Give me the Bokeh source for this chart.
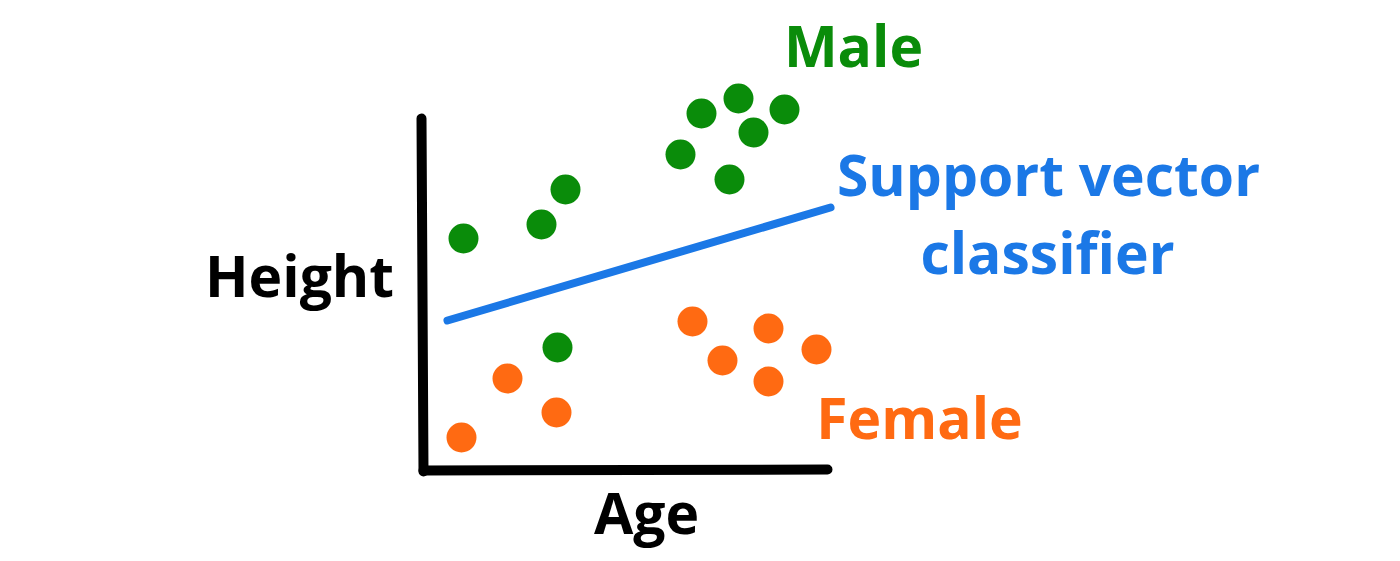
from bokeh.plotting import figure
from bokeh.models import Range1d, ColumnDataSource
from bokeh.core.properties import value
from bokeh.embed import file_html
from bokeh.resources import INLINE

# Data (age, height) in arbitrary units, origin at axis corner
male_age = [38, 116, 140, 132, 255, 276, 313, 328, 359, 304]
male_height = [232, 246, 281, 123, 316, 357, 372, 338, 361, 291]
female_age = [36, 82, 131, 267, 297, 343, 343, 391]
female_height = [33, 92, 58, 149, 110, 142, 89, 121]
svc_age = [22, 405]
svc_height = [150, 263]

labels = ["Male", "Support vector", "classifier", "Female", "Height", "Age"]

GREEN = "#0a8c0a"
ORANGE = "#ff6a12"
BLUE = "#1b78e6"

p = figure(width=1400, height=561, output_backend="svg", toolbar_location=None,
           x_range=Range1d(-425, 975), y_range=Range1d(-91, 470),
           min_border=0, outline_line_color=None)
p.axis.visible = False
p.grid.visible = False
p.background_fill_color = "white"
p.border_fill_color = "white"

# hand-drawn axes
p.line([-4, -2], [352, -1], line_width=10, line_color="black", line_cap="round")
p.line([-2, 402], [0, 1], line_width=10, line_color="black", line_cap="round")

# classifier line
p.line(svc_age, svc_height, line_width=8, line_color=BLUE, line_cap="round")

p.scatter(male_age, male_height, size=30, fill_color=GREEN, line_color=None)
p.scatter(female_age, female_height, size=30, fill_color=ORANGE, line_color=None)

lab_x = [428, 623, 622, 494, -126, 221]
lab_y = [426, 297, 219, 54, 196, -41]
lab_c = [GREEN, BLUE, BLUE, ORANGE, "black", "black"]
src = ColumnDataSource(dict(x=lab_x, y=lab_y, t=labels, c=lab_c))
p.text(x="x", y="y", text="t", text_color="c", source=src,
       text_font=value("Open Sans"), text_font_style="bold",
       text_font_size="57px", text_align="center", text_baseline="alphabetic")

open("out.html", "w").write(file_html(p, INLINE))
